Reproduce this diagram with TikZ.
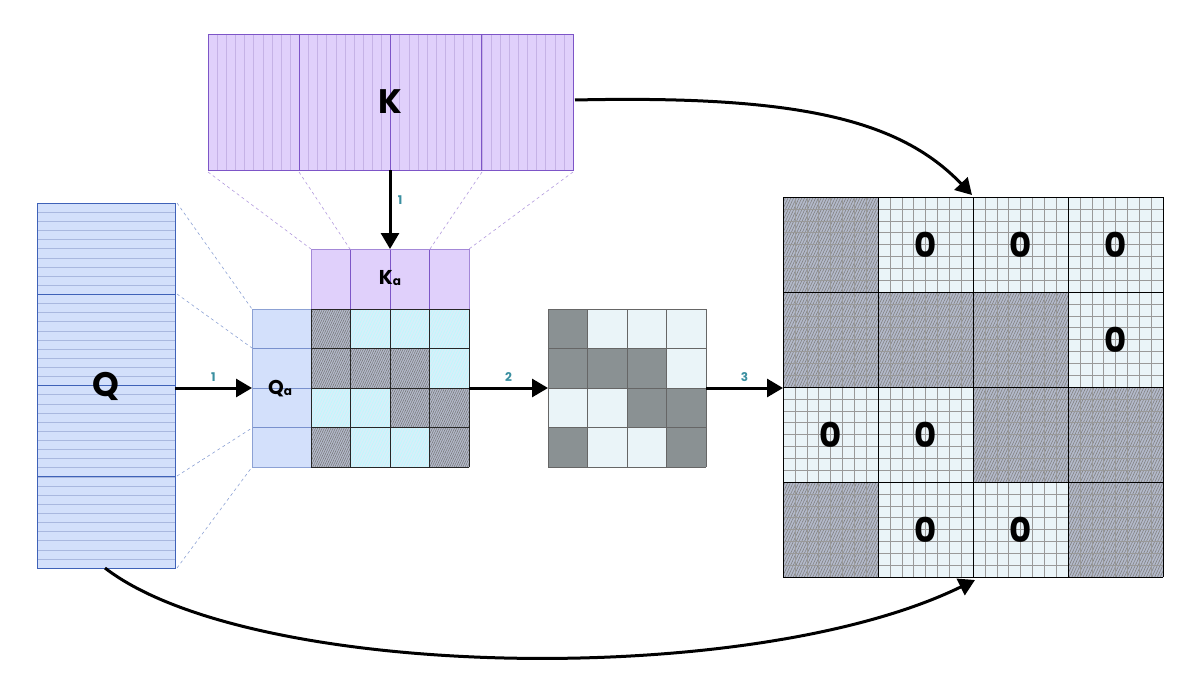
\documentclass[tikz,border=0pt]{standalone}
\usepackage{fontspec}
\setmainfont{Poppins}
\usetikzlibrary{patterns,patterns.meta,arrows.meta}
\definecolor{kfill}{HTML}{E0D0FB}
\definecolor{kline}{HTML}{7D55C7}
\definecolor{qfill}{HTML}{D3E0FB}
\definecolor{qline}{HTML}{3F62B8}
\definecolor{lab}{HTML}{3A8FA0}
\definecolor{lcell}{HTML}{EAF4F8}
\definecolor{dcell}{HTML}{8A9193}
\definecolor{hdark}{HTML}{B4BACB}
\definecolor{hlight}{HTML}{D8EEF9}
\tikzset{
 arr/.style={line width=3pt,-{Triangle[length=16pt,width=18pt]}},
 num/.style={text=lab,font=\bfseries\large},
 kdash/.style={kline!60,dashed,line width=0.6pt},
 qdash/.style={qline!60,dashed,line width=0.6pt},
}
\begin{document}
\begin{tikzpicture}[x=1pt,y=-1pt]
\useasboundingbox (0,0) rectangle (1200,693);
% K
\fill[kfill] (208,34) rectangle (573,170);
\foreach \i in {0,...,39} \draw[kline!45,line width=0.4pt] ({208+\i*9.125},34) -- ({208+\i*9.125},170);
\foreach \i in {1,2,3} \draw[kline,line width=1pt] ({208+\i*91.25},34) -- ({208+\i*91.25},170);
\draw[kline,line width=0.8pt] (208,34) rectangle (573,170);
\node[font=\bfseries\fontsize{34}{34}\selectfont] (K) at (390,102) {K};
\coordinate (Kb) at (390,170);
\coordinate (Kr) at (575,100);
% Q
\fill[qfill] (37,203) rectangle (175,568);
\foreach \i in {0,...,39} \draw[qline!45,line width=0.4pt] (37,{203+\i*9.125}) -- (175,{203+\i*9.125});
\foreach \i in {1,2,3} \draw[qline,line width=1pt] (37,{203+\i*91.25}) -- (175,{203+\i*91.25});
\draw[qline,line width=0.8pt] (37,203) rectangle (175,568);
\node[font=\bfseries\fontsize{34}{34}\selectfont] (Q) at (106,386) {Q};
\coordinate (Qr) at (175,388);
\coordinate (Qb) at (105,568);
% dashed
\foreach \a/\b in {208/311,299/350,482/430,573/469} \draw[kdash] (\a,172) -- (\b,249);
\foreach \a/\b in {203/309,294/348,476/428,568/467} \draw[qdash] (177,\a) -- (252,\b);
% Ka
\fill[kfill] (311,249) rectangle (469,309);
\foreach \i in {1,2,3} \draw[kline,line width=0.7pt] ({311+\i*39.5},249) -- ({311+\i*39.5},309);
\draw[kline!70,line width=0.7pt] (311,249) rectangle (469,309);
\node[font=\bfseries\fontsize{20}{20}\selectfont] (Ka) at (390,278) {K\raisebox{-1pt}{\fontsize{12}{12}\selectfont a}};
% Qa
\fill[qfill] (252,309) rectangle (311,467);
\foreach \i in {1,2,3} \draw[qline!70,line width=0.7pt] (252,{309+\i*39.5}) -- (311,{309+\i*39.5});
\draw[qline!60,line width=0.7pt] (252,309) rectangle (311,467);
\node[font=\bfseries\fontsize{20}{20}\selectfont] (Qa) at (280,389) {Q\raisebox{-1pt}{\fontsize{12}{12}\selectfont a}};
% score matrix (dark cells)
\foreach \r/\c in {0/0,1/0,1/1,1/2,2/2,2/3,3/0,3/3}{
  \fill[hdark] ({311+\c*39.5},{309+\r*39.5}) rectangle +(39.5,39.5);
  \fill[pattern={Lines[angle=65,distance=2pt,line width=0.5pt]},pattern color=black!55] ({311+\c*39.5},{309+\r*39.5}) rectangle +(39.5,39.5);
  \fill[dcell] ({548+\c*39.5},{309+\r*39.5}) rectangle +(39.5,39.5);
}
\foreach \r/\c in {0/1,0/2,0/3,1/3,2/0,2/1,3/1,3/2}{
  \fill[hlight] ({311+\c*39.5},{309+\r*39.5}) rectangle +(39.5,39.5);
  \fill[pattern={Lines[angle=65,distance=2.5pt,line width=0.4pt]},pattern color=cyan!30] ({311+\c*39.5},{309+\r*39.5}) rectangle +(39.5,39.5);
  \fill[lcell] ({548+\c*39.5},{309+\r*39.5}) rectangle +(39.5,39.5);
}
\foreach \i in {0,...,4}{
 \draw[black!85,line width=0.7pt] ({311+\i*39.5},309) -- ({311+\i*39.5},467);
 \draw[black!85,line width=0.7pt] (311,{309+\i*39.5}) -- (469,{309+\i*39.5});
 \draw[black!60,line width=0.7pt] ({548+\i*39.5},309) -- ({548+\i*39.5},467);
 \draw[black!60,line width=0.7pt] (548,{309+\i*39.5}) -- (706,{309+\i*39.5});
}
\coordinate (Mr) at (469,388);
\coordinate (Gl) at (548,388);
\coordinate (Gr) at (706,388);
% big matrix
\foreach \r/\c in {0/0,1/0,1/1,1/2,2/2,2/3,3/0,3/3}{
  \fill[hdark] ({783+\c*95},{197+\r*95}) rectangle +(95,95);
  \fill[pattern={Lines[angle=65,distance=2.5pt,line width=0.6pt]},pattern color=black!50] ({783+\c*95},{197+\r*95}) rectangle +(95,95);
}
\foreach \r/\c in {0/1,0/2,0/3,1/3,2/0,2/1,3/1,3/2}{
  \fill[lcell] ({783+\c*95},{197+\r*95}) rectangle +(95,95);
}
\foreach \i in {1,...,31}{
 \draw[black!40,line width=0.4pt] ({783+\i*11.875},197) -- ({783+\i*11.875},577);
 \draw[black!40,line width=0.4pt] (783,{197+\i*11.875}) -- (1163,{197+\i*11.875});
}
\foreach \r/\c in {0/1,0/2,0/3,1/3,2/0,2/1,3/1,3/2}{
  \node[font=\bfseries\fontsize{34}{34}\selectfont] at ({783+\c*95+47.5},{197+\r*95+47.5}) {0};
}
\foreach \i in {0,...,4}{
 \draw[black,line width=1pt] ({783+\i*95},197) -- ({783+\i*95},577);
 \draw[black,line width=1pt] (783,{197+\i*95}) -- (1163,{197+\i*95});
}
\coordinate (Bl) at (783,388);
\coordinate (Bt) at (972,195);
\coordinate (Bb) at (975,580);
% arrows
\draw[arr] (Kb) -- node[num,right=3pt,pos=0.38]{1} (390,249);
\draw[arr] (Qr) -- node[num,above=2pt]{1} (252,388);
\draw[arr] (Mr) -- node[num,above=2pt]{2} (Gl);
\draw[arr] (Gr) -- node[num,above=2pt]{3} (Bl);
\draw[arr] (Kr) .. controls (800,95) and (900,120) .. (Bt);
\draw[arr] (Qb) .. controls (250,680) and (750,690) .. (Bb);
\end{tikzpicture}
\end{document}
